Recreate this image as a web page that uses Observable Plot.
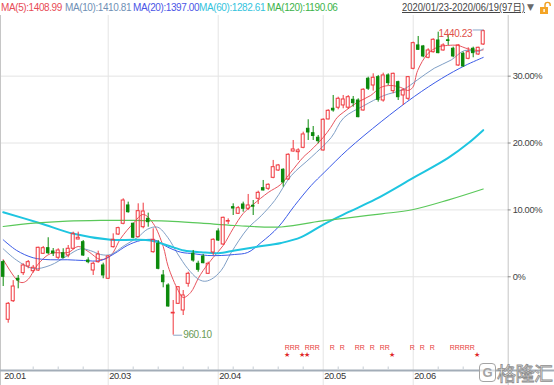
<!DOCTYPE html>
<html><head><meta charset="utf-8">
<script src="https://cdn.jsdelivr.net/npm/d3@7"></script>
<script src="https://cdn.jsdelivr.net/npm/@observablehq/plot@0.6"></script>
<style>
body{margin:0;background:#fff;width:554px;height:385px;overflow:hidden;position:relative;font-family:"Liberation Sans","Noto Sans CJK SC",Arial,sans-serif;}
#hdr{position:absolute;left:0;top:0;width:554px;height:15px;font-size:10px;}
#hdr span{position:absolute;top:2px;line-height:11px;letter-spacing:-0.4px;white-space:nowrap}
#chart{position:absolute;left:0;top:15px}
#wm{position:absolute;left:479px;top:363px;height:21px;}
</style></head><body>
<div id="hdr"></div>
<div id="chart"></div>
<div id="wm"></div>
<script>
// ---------- data ----------
const opens = [1075.0, 984.4, 1013.6, 1048.9, 1057.7, 1068.2, 1060.8, 1061.9, 1088.2, 1097.0,
 1091.8, 1081.9, 1089.1, 1085.5, 1096.1, 1110.7, 1106.4, 1077.6, 1061.9, 1075.0,
 1069.8, 1048.9, 1098.6, 1118.5, 1135.4, 1164.2, 1135.4, 1114.3, 1130.0, 1143.2,
 1090.7, 1103.9, 1054.1, 1038.3, 994.3, 1009.5, 999.0, 1041.0, 1088.2, 1072.5,
 1083.9, 1056.7, 1090.2, 1123.3, 1102.8, 1138.7, 1161.5, 1151.1, 1165.7, 1159.0,
 1163.7, 1174.7, 1191.4, 1190.4, 1207.7, 1219.2, 1220.3, 1205.1, 1249.1, 1248.0,
 1254.9, 1284.8, 1277.9, 1270.7, 1250.7, 1299.5, 1316.3, 1317.9, 1321.5, 1318.0,
 1330.4, 1329.3, 1313.6, 1363.5, 1352.9, 1366.0, 1329.3, 1368.7, 1344.0, 1358.1,
 1337.2, 1332.0, 1379.2, 1415.9, 1414.3, 1396.5, 1405.3, 1423.7, 1408.0, 1424.0,
 1410.7, 1384.4, 1402.8, 1394.9, 1410.7, 1401.7, 1417.4];
const highs = [1077.6, 1011.6, 1046.0, 1054.1, 1072.5, 1077.6, 1069.8, 1098.6, 1099.7, 1113.4,
 1096.5, 1096.1, 1096.1, 1101.2, 1122.2, 1122.2, 1109.1, 1081.9, 1075.0, 1092.3,
 1073.4, 1085.5, 1119.6, 1130.0, 1174.7, 1169.4, 1136.3, 1166.8, 1167.8, 1152.1,
 1127.5, 1109.1, 1061.9, 1041.0, 1014.7, 1036.7, 1030.4, 1059.2, 1093.4, 1076.5,
 1087.1, 1075.0, 1111.8, 1127.5, 1145.8, 1143.2, 1166.8, 1162.6, 1169.4, 1181.5,
 1172.0, 1186.7, 1203.5, 1198.3, 1235.0, 1228.7, 1221.9, 1245.5, 1266.4, 1253.4,
 1279.5, 1299.0, 1288.4, 1274.3, 1300.6, 1314.7, 1337.2, 1334.5, 1337.2, 1337.0,
 1335.6, 1332.0, 1347.8, 1366.0, 1371.3, 1368.7, 1372.3, 1371.3, 1372.3, 1359.7,
 1347.8, 1367.1, 1421.1, 1430.0, 1415.9, 1410.7, 1426.4, 1436.8, 1418.5, 1431.6,
 1413.2, 1417.4, 1405.3, 1412.2, 1413.2, 1413.2, 1440.23];
const lows = [1036.7, 979.0, 1011.6, 1033.1, 1054.1, 1064.6, 1057.7, 1060.3, 1087.1, 1087.1,
 1083.9, 1079.2, 1080.3, 1081.9, 1094.5, 1110.2, 1083.9, 1072.5, 1054.1, 1073.4,
 1048.9, 1047.8, 1097.0, 1117.0, 1133.8, 1152.1, 1111.8, 1113.4, 1127.5, 1130.0,
 1089.1, 1063.0, 1034.7, 1004.2, 960.10, 1008.4, 991.1, 1035.6, 1075.0, 1059.2,
 1072.5, 1055.6, 1085.5, 1107.5, 1101.2, 1134.3, 1148.4, 1150.0, 1153.6, 1156.3,
 1148.4, 1165.7, 1187.0, 1187.8, 1206.2, 1217.7, 1193.0, 1203.5, 1248.0, 1235.0,
 1253.4, 1266.4, 1266.4, 1261.2, 1249.6, 1298.7, 1310.9, 1314.7, 1316.3, 1315.2,
 1318.8, 1302.1, 1312.5, 1345.1, 1344.0, 1326.7, 1326.7, 1352.9, 1339.9, 1329.3,
 1321.5, 1329.3, 1377.6, 1408.0, 1396.5, 1394.9, 1403.8, 1402.8, 1406.9, 1415.9,
 1396.5, 1382.8, 1381.7, 1393.4, 1396.5, 1400.1, 1415.9];
const closes = [1052.0, 1009.5, 1036.7, 1046.2, 1069.8, 1075.0, 1066.2, 1097.6, 1097.0, 1089.1,
 1088.7, 1093.4, 1081.9, 1096.1, 1119.6, 1113.4, 1085.5, 1075.0, 1072.5, 1087.1,
 1054.1, 1083.9, 1110.2, 1128.5, 1172.0, 1153.6, 1113.4, 1155.2, 1154.7, 1137.9,
 1110.2, 1064.6, 1043.5, 1005.3, 995.4, 1035.6, 1022.6, 1056.7, 1077.6, 1063.0,
 1073.4, 1072.5, 1110.2, 1109.1, 1144.8, 1139.8, 1159.4, 1159.9, 1159.0, 1164.2,
 1162.3, 1184.1, 1187.8, 1196.7, 1224.4, 1227.1, 1200.4, 1243.9, 1252.3, 1250.7,
 1275.9, 1279.0, 1273.5, 1265.3, 1299.0, 1313.1, 1313.6, 1332.0, 1330.9, 1334.5,
 1325.1, 1303.1, 1346.2, 1347.8, 1365.1, 1330.4, 1368.7, 1356.6, 1371.3, 1334.5,
 1345.1, 1366.0, 1419.5, 1409.1, 1398.6, 1408.0, 1424.8, 1403.8, 1415.9, 1422.9,
 1398.6, 1415.9, 1382.8, 1405.3, 1403.8, 1412.2, 1438.4];

// moving averages: [bar index, value]
const ma5 = [[0,1079.2],[3,1045],[4,1043],[5,1048],[6,1060],[7,1072],[9.5,1088.7],[13,1090.2],[15,1099.7],[17,1091.8],[19.5,1079.2],[21.5,1085.5],[23.5,1112.3],[26,1135.9],[28,1150.0],[30,1135.9],[32,1099.7],[33,1068],[35,1030.5],[36,1019.4],[37.5,1027.3],[39,1049.3],[40,1061.9],[42,1082.4],[44,1101.2],[46,1128.0],[48,1151.6],[50,1165.7],[53,1184.6],[55.5,1197.2],[57.5,1216.1],[60,1240],[61.5,1250.7],[64,1271.1],[65.5,1286.9],[66.8,1302.6],[68,1310.5],[70.8,1326.2],[73.5,1337.2],[75.5,1349.8],[77.5,1352.9],[79.5,1349.8],[80.9,1345.1],[81.9,1349.8],[82.9,1376.5],[84.9,1402.8],[86.9,1413.2],[88.9,1415.9],[90.9,1415.9],[92.9,1410.7],[95,1408.0],[96,1408.99]];
const ma10 = [[0,1096],[2.7,1078],[6,1065],[9.4,1070],[12.8,1085],[15.5,1096],[17.5,1093],[19.5,1087],[21.5,1087],[24.2,1101],[26.9,1114],[28.9,1127],[30.9,1130],[32.9,1114],[34.9,1088],[36.9,1065],[38.9,1049],[40.2,1045],[41.6,1048],[43.6,1062],[45.6,1090],[48.9,1128],[51.6,1148],[54.3,1172],[57.6,1211],[61.6,1240],[65.6,1271],[68.1,1302],[72.1,1321],[76.1,1337],[80.1,1347],[82.9,1362],[86.2,1380],[89.6,1393],[92.3,1408],[95,1406],[96,1410.81]];
const ma20 = [[0,1110.2],[2.7,1093.4],[6,1081.9],[9.4,1078.8],[12.8,1078.8],[16.1,1077.6],[19.5,1077.6],[22.2,1088.2],[24.8,1101.2],[27.5,1109.1],[30.2,1110.2],[32.9,1098.6],[35.5,1090.7],[38.2,1088.2],[40.9,1085.5],[43.6,1085.5],[46.3,1087.1],[48.9,1090.2],[51.6,1106.0],[55,1130.0],[58.3,1164.2],[61.6,1195.6],[64.2,1216.1],[68.9,1252],[75.6,1296],[82.3,1336],[87.7,1364],[92.3,1384],[96,1397.00]];
const ma60 = [[0,1153.6],[7.4,1136.3],[14.1,1119.6],[21.5,1110.2],[26.2,1110.2],[29.5,1109.1],[32.9,1101.2],[36.2,1093.4],[39.6,1090.7],[43,1089.1],[46.3,1093.4],[50.3,1098.6],[55.6,1105.2],[59.6,1114.3],[64.3,1135.4],[69,1153.6],[74.4,1173.6],[82,1207.5],[89,1239],[93,1262],[96,1282.61]];
const ma120 = [[0,1131.1],[6.1,1136.3],[12.8,1139.5],[19.5,1140.6],[26.2,1140.6],[32.9,1139.5],[39.6,1136.3],[46.3,1132.7],[55.6,1130.3],[64.3,1140.6],[69,1144.8],[75.7,1151.1],[81.8,1157.4],[89.1,1173],[96,1190.06]];

const maNames = ["MA(5)", "MA(10)", "MA(20)", "MA(60)", "MA(120)"];
const maLast = [1408.99, 1410.81, 1397.00, 1282.61, 1190.06];

const basePrice = 1052.0;
const tickPercents = [0, 10, 20, 30];
const tickLabels = ["0%", "10.00%", "20.00%", "30.00%"];
const monthIdx = [0, 21, 43, 64, 82];
const monthLabels = ["20.01", "20.03", "20.04", "20.05", "20.06"];
const weekIdx = [6, 11, 16, 26, 31, 36, 41, 46, 50, 55, 60, 67, 72, 77, 87, 92];
const rIdx = [57, 58, 59, 61, 62, 63, 66, 68, 71, 72, 74, 76, 77, 82, 84, 86, 90, 91, 92, 93, 94];
const starIdx = [57, 60, 61, 78, 95];
const rangeText = "2020/01/23-2020/06/19(97日)";

// ---------- styles ----------
const RED = "#f0363c", GREEN = "#0b8a0b";
const maColors = ["#e8545e", "#7f9fc6", "#3b5be8", "#1ec5e0", "#5ac85a"];
const maText = ["#e84b56", "#6f8fb5", "#4a55e6", "#33c3dd", "#3cb34a"];
const maWidths = [1, 1, 1, 2, 1.2];
const maLeft = [1, 65, 133, 199, 267];
const W = 554, H = 370, MR = 46.3, MB = 15;
const yDomain = [904.6, 1463.0];
const xDomain = [-0.54, 101];

// header
const hdr = document.getElementById("hdr");
maNames.forEach((n, k) => {
  const s = document.createElement("span");
  s.textContent = n + ":" + maLast[k].toFixed(2);
  s.style.left = maLeft[k] + "px"; s.style.color = maText[k];
  hdr.appendChild(s);
});
const rs = document.createElement("span");
rs.textContent = rangeText;
rs.style.cssText = "left:402px;color:#454545;text-decoration:underline;letter-spacing:0;font-size:10px;transform-origin:0 50%";
hdr.appendChild(rs);
const rw = rs.getBoundingClientRect().width;
rs.style.transform = "scaleX(" + (123 / rw) + ")";
const tri = document.createElement("span");
tri.textContent = "▼"; tri.style.cssText = "left:527px;top:2px;color:#6a6a6a;font-size:9px;letter-spacing:0;font-family:'DejaVu Sans'";
hdr.appendChild(tri);
const lock = document.createElement("span");
lock.style.cssText = "left:539px;top:1px";
lock.innerHTML = '<svg width="13" height="14"><path d="M6 6 V4 a2.6 2.6 0 0 1 5.2 0 V5" stroke="#f0a020" fill="none" stroke-width="1.4"/><rect x="1" y="6" width="8" height="7" fill="#f4a424"/><rect x="4.4" y="8" width="1.4" height="3" fill="#fff"/></svg>';
hdr.appendChild(lock);

// watermark
document.getElementById("wm").innerHTML =
 '<span style="display:inline-block;width:15px;height:17px;border:1.6px solid #a4a4a4;border-radius:4px;color:#a4a4a4;font:bold 13px Arial;text-align:center;line-height:17px;vertical-align:top;background:rgba(255,255,255,0.6)">G</span>' +
 '<span style="display:inline-block;margin-left:1px;font:19px \'Noto Sans CJK SC\';line-height:20px;color:#ececec;-webkit-text-stroke:0.8px #8e8e8e;vertical-align:top;letter-spacing:-0.5px">格隆汇</span>';

// ---------- chart ----------
const candles = d3.range(closes.length).map(i => ({i, o: opens[i], h: highs[i], l: lows[i], c: closes[i]}));
const ups = candles.filter(d => d.c >= d.o), downs = candles.filter(d => d.c < d.o);
const tickPrices = tickPercents.map(p => basePrice * (1 + p / 100));
const lowI = d3.minIndex(lows), highI = d3.maxIndex(highs);
const lowPt = [{i: lowI, v: lows[lowI]}], highPt = [{i: highI, v: highs[highI]}];
const maData = [ma5, ma10, ma20, ma60, ma120];

const chart = Plot.plot({
  width: W, height: H, marginLeft: 0, marginRight: MR, marginTop: 0, marginBottom: MB,
  x: {type: "linear", domain: xDomain, axis: null},
  y: {type: "linear", domain: yDomain, axis: null},
  style: {fontFamily: '"Liberation Sans", Arial, sans-serif', fontSize: "9.3px", letterSpacing: "-0.35px", overflow: "visible", background: "transparent"},
  marks: [
    Plot.ruleY(tickPrices, {stroke: "#e4e4e4"}),
    Plot.ruleX(monthIdx.slice(1), {x: d => d, stroke: "#e4e4e4", insetBottom: -MB}),
    Plot.ruleX([xDomain[0]], {x: d => d, stroke: "#c6c6c6", insetBottom: -MB}),
    Plot.ruleX([xDomain[1]], {x: d => d, stroke: "#c6c6c6", insetBottom: -MB}),
    Plot.ruleX(weekIdx, {x: d => d, stroke: "#c4ccd4", insetTop: H - MB - 3.5, insetBottom: 1}),
    Plot.ruleY([yDomain[0]], {y: d => d, stroke: "#a3adb8", strokeWidth: 2, insetRight: -MR}),
    // y labels
    Plot.ruleY(tickPrices, {stroke: "#8a8a8a", insetLeft: W - MR, insetRight: -3}),
    Plot.text(tickPrices, {y: d => d, text: (d, k) => tickLabels[k], frameAnchor: "right", dx: 4.5, textAnchor: "start", fill: "#444"}),
    // x labels
    Plot.text(monthIdx, {x: d => d, text: (d, k) => monthLabels[k], frameAnchor: "bottom", dy: 8, dx: 1, textAnchor: "start", fill: "#333"}),
    // moving averages
    ...maData.map((m, k) => Plot.line(m, {x: d => d[0], y: d => d[1], stroke: maColors[k], strokeWidth: maWidths[k], curve: "catmull-rom"})),
    // candles
    Plot.ruleX(downs, {x: "i", y1: "l", y2: "h", stroke: GREEN}),
    Plot.ruleX(ups, {x: "i", y1: "h", y2: "c", stroke: RED}),
    Plot.ruleX(ups, {x: "i", y1: "o", y2: "l", stroke: RED}),
    Plot.rect(downs, {x1: d => d.i - 0.25, x2: d => d.i + 0.25, y1: "c", y2: "o", fill: GREEN, stroke: GREEN}),
    Plot.rect(ups, {x1: d => d.i - 0.3, x2: d => d.i + 0.3, y1: "o", y2: "c", fill: "none", stroke: RED}),
    // extremes
    Plot.link(lowPt, {x1: "i", x2: d => d.i + 1.8, y1: "v", y2: "v", stroke: "#8aa6c8"}),
    Plot.text(lowPt, {x: "i", y: "v", text: d => d.v.toFixed(2), dx: 10, textAnchor: "start", fill: "#6b9a55", fontSize: 10}),
    Plot.link(highPt, {x1: d => d.i - 2.1, x2: "i", y1: "v", y2: "v", stroke: "#8aa6c8"}),
    Plot.text(highPt, {x: "i", y: "v", text: d => d.v.toFixed(2), dx: -11, dy: 3.5, textAnchor: "end", fill: "#e0504a", fontSize: 10}),
    // signal markers
    Plot.text(rIdx, {x: d => d, text: d => "R", frameAnchor: "bottom", dy: -20.5, dx: -1, fill: "#e8403c", fontSize: 7}),
    Plot.text(starIdx, {x: d => d, text: d => "★", frameAnchor: "bottom", dy: -13.5, dx: -1, fill: "#e02828", fontSize: 7})
  ]
});
document.getElementById("chart").appendChild(chart);
</script>
</body></html>
